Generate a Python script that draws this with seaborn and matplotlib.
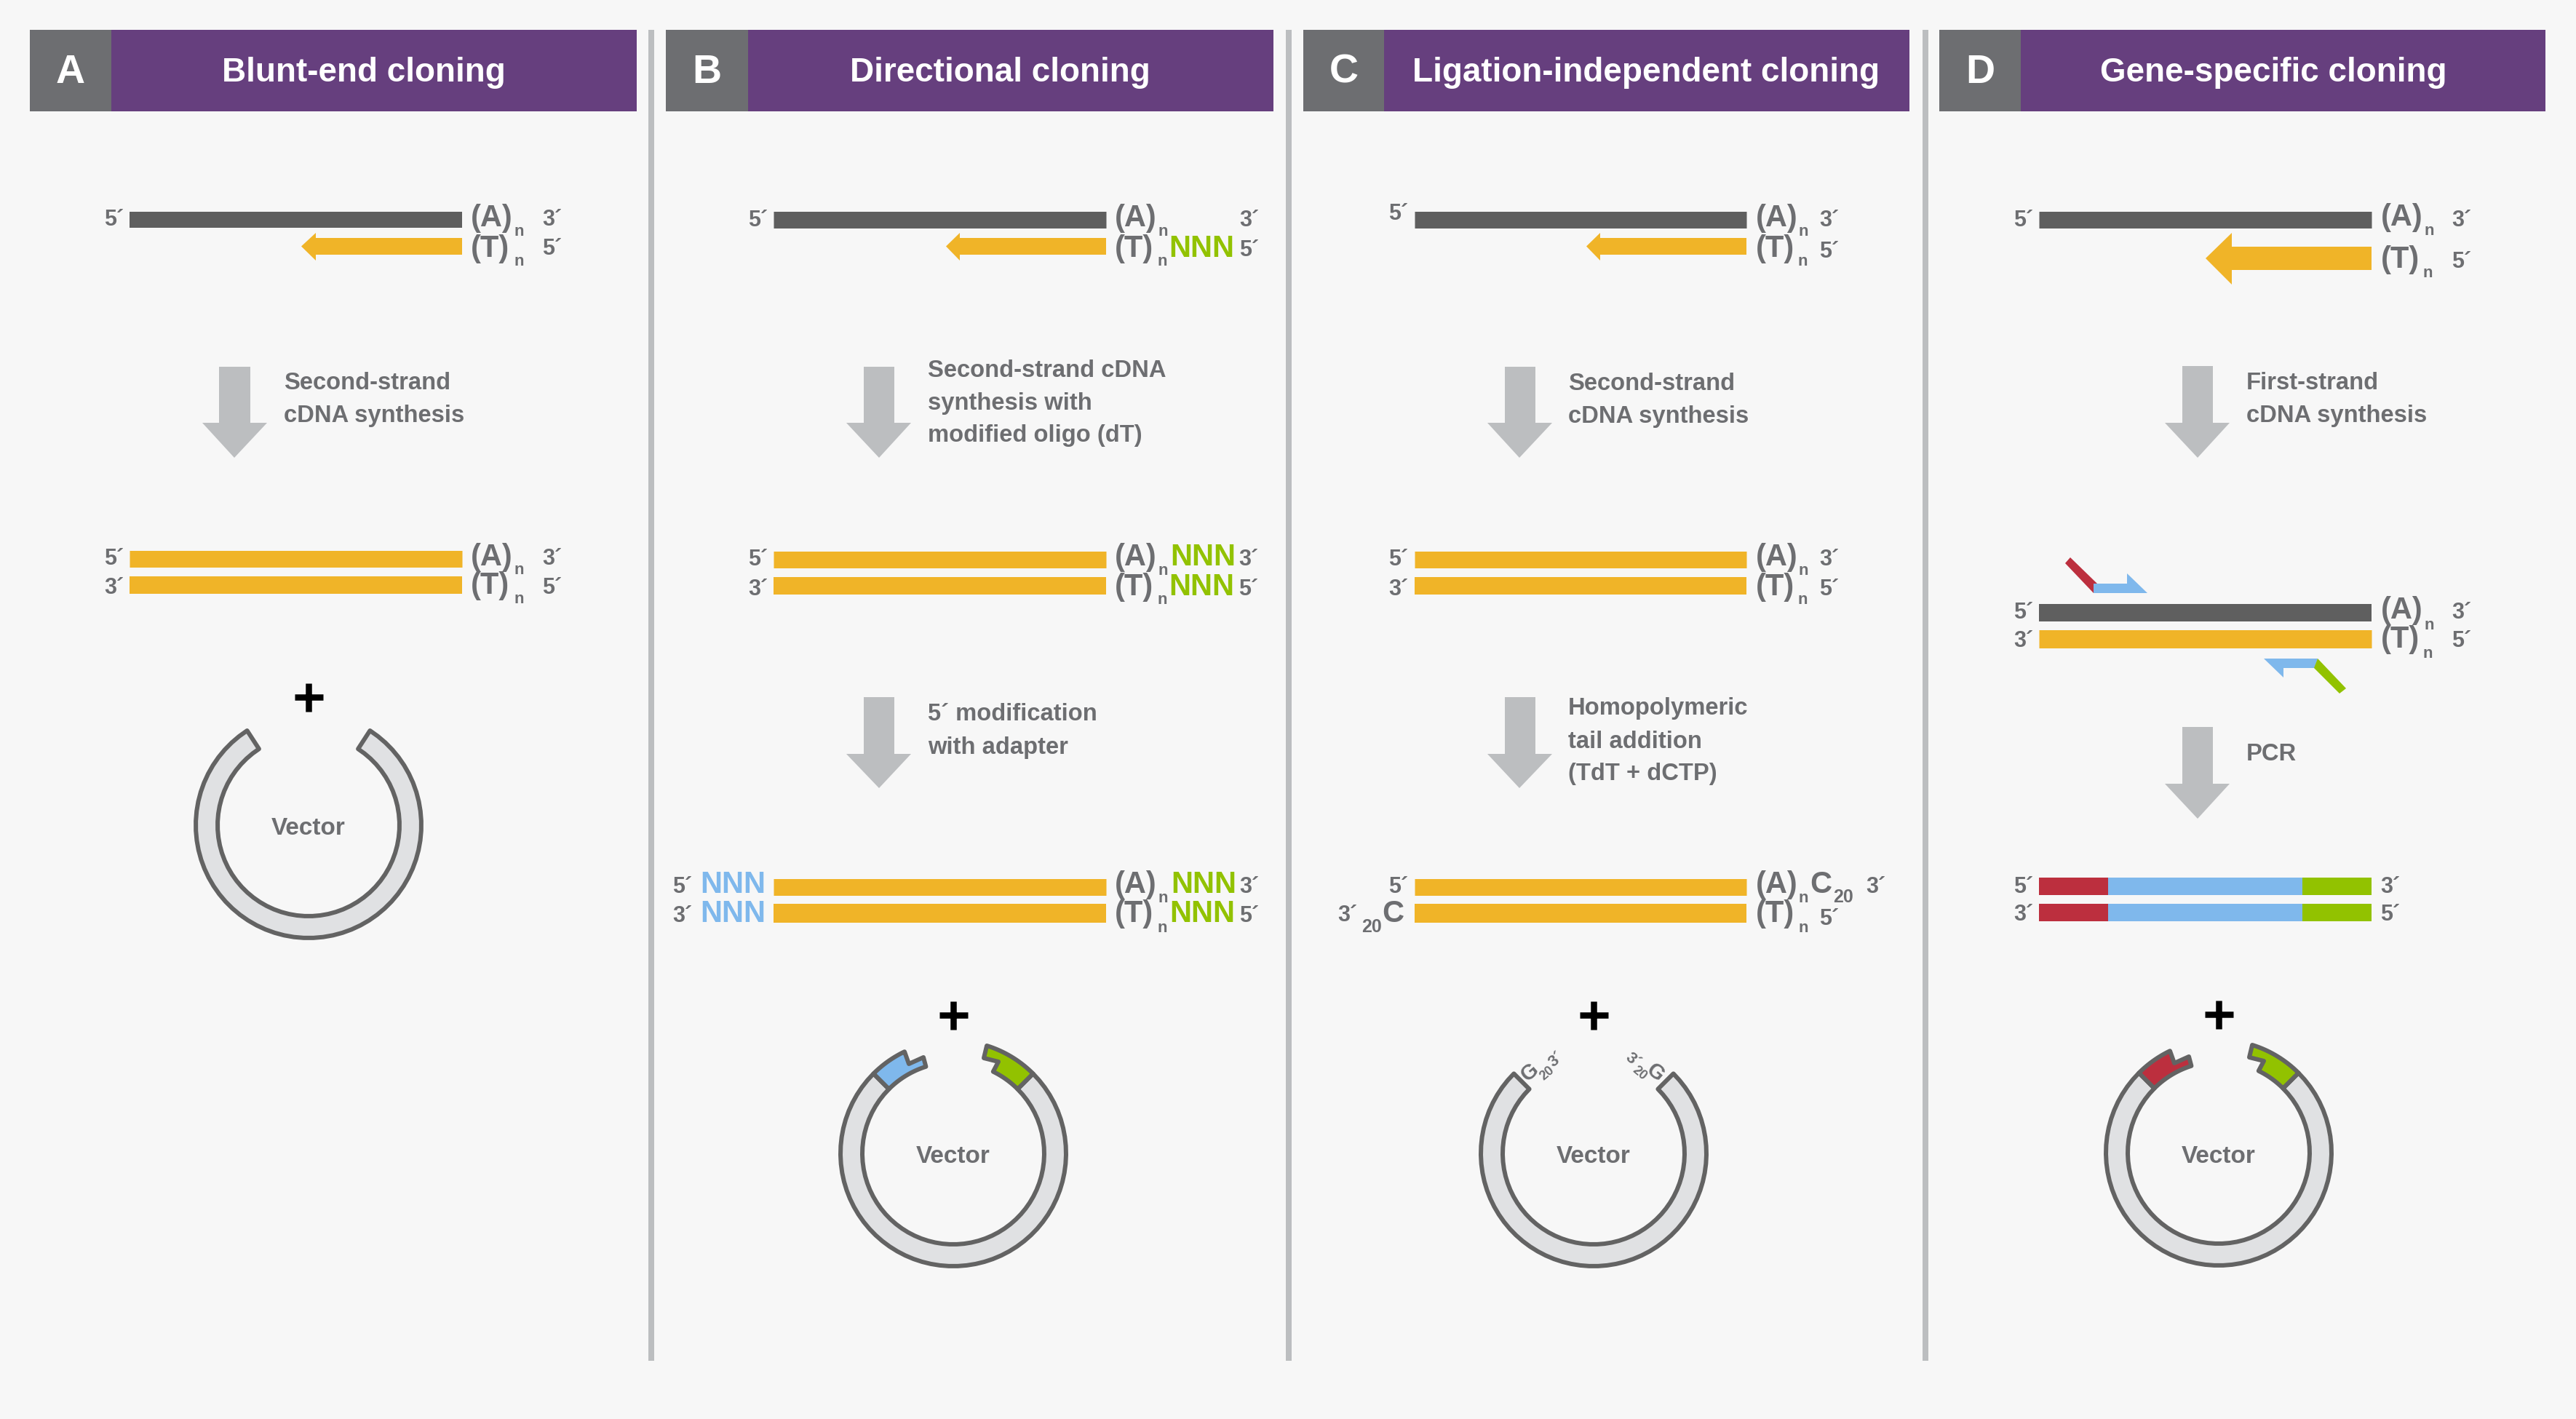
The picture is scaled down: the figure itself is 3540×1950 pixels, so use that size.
import numpy as np
import seaborn as sns
import matplotlib.pyplot as plt
from matplotlib.patches import Polygon, Rectangle

ORANGE = '#F0B428'
DARK = '#5F5F5F'
BLUE = '#7FB8EC'
GREEN = '#92C200'
RED = '#BC2F3E'
ARROW_GREY = '#BCBEC0'
TEXT_GREY = '#6D6E71'
RING_FILL = '#E0E1E3'
RING_EDGE = '#636363'
BG = '#F7F7F7'

# header boxes: letter, title, left, split, right, title centre
HEAD_LETTERS = ['A', 'B', 'C', 'D']
HEAD_TITLES = ['Blunt-end cloning', 'Directional cloning', 'Ligation-independent cloning', 'Gene-specific cloning']
HEAD_LEFT = [41, 915, 1791, 2665]
HEAD_SPLIT = [153, 1028, 1902, 2777]
HEAD_RIGHT = [875, 1750, 2624, 3498]
HEAD_TEXT_X = [500, 1374, 2262, 3124]
SEPARATORS = [895, 1771, 2646]

# strands: x0, x1, top, bottom, colour
STRANDS = [
    (178, 635, 291, 313, DARK), (178, 635, 756, 779, ORANGE), (178, 635, 792, 816, ORANGE),
    (1063, 1520, 290, 313, DARK), (1063, 1520, 757, 780, ORANGE), (1063, 1520, 793, 817, ORANGE),
    (1063, 1520, 1207, 1230, ORANGE), (1063, 1520, 1242, 1268, ORANGE),
    (1944, 2400, 290, 313, DARK), (1944, 2400, 757, 780, ORANGE), (1944, 2400, 793, 817, ORANGE),
    (1944, 2400, 1207, 1230, ORANGE), (1944, 2400, 1242, 1268, ORANGE),
    (2802, 3259, 290, 313, DARK), (2802, 3259, 830, 854, DARK), (2802, 3259, 865, 890, ORANGE),
    (2802, 2897, 1206, 1230, RED), (2897, 3164, 1206, 1230, BLUE), (3164, 3259, 1206, 1230, GREEN),
    (2802, 2897, 1242, 1266, RED), (2897, 3164, 1242, 1266, BLUE), (3164, 3259, 1242, 1266, GREEN),
]

# first strand arrows: root x, head base x, tip x, shaft top, shaft bottom, head top, head bottom
SYNTH_ARROWS = [
    (635, 434, 414, 327, 350, 320, 358),
    (1520, 1319, 1300, 327, 350, 320, 358),
    (2400, 2199, 2180, 327, 350, 320, 358),
    (3259, 3067, 3031, 339, 371, 320, 391),
]

# step arrows: shaft left, shaft right, head left, head right, tip x, top, shoulder, tip y
STEP_ARROWS = [
    (301, 344, 278, 367, 322, 504, 581, 629),
    (1187, 1229, 1163, 1252, 1208, 504, 581, 629),
    (1187, 1229, 1163, 1252, 1208, 958, 1036, 1083),
    (2068, 2110, 2044, 2133, 2088, 504, 581, 629),
    (2068, 2110, 2044, 2133, 2088, 958, 1036, 1083),
    (2999, 3041, 2975, 3064, 3020, 503, 581, 629),
    (2999, 3041, 2975, 3064, 3020, 999, 1077, 1125),
]

# step captions: text, x, baseline
CAPTIONS = [
    ('Second-strand', 390, 535), ('cDNA synthesis', 390, 580),
    ('Second-strand cDNA', 1275, 518), ('synthesis with', 1275, 563), ('modified oligo (dT)', 1275, 607),
    ('5´ modification', 1275, 990), ('with adapter', 1275, 1036),
    ('Second-strand', 2155, 536), ('cDNA synthesis', 2155, 581),
    ('Homopolymeric', 2155, 982), ('tail addition', 2155, 1028), ('(TdT + dCTP)', 2155, 1072),
    ('First-strand', 3087, 535), ('cDNA synthesis', 3087, 580),
    ('PCR', 3087, 1045),
]

PRIMES = [
    ('5´', 143, 310), ('3´', 745, 310), ('5´', 745, 350),
    ('5´', 143, 776), ('3´', 143, 816), ('3´', 745, 776), ('5´', 745, 816),
    ('5´', 1028, 311), ('3´', 1703, 311), ('5´', 1703, 352),
    ('5´', 1028, 777), ('3´', 1028, 818), ('3´', 1702, 777), ('5´', 1702, 818),
    ('5´', 924, 1227), ('3´', 924, 1267), ('3´', 1703, 1227), ('5´', 1703, 1267),
    ('5´', 1908, 302), ('3´', 2500, 311), ('5´', 2500, 354),
    ('5´', 1908, 777), ('3´', 1908, 818), ('3´', 2500, 777), ('5´', 2500, 818),
    ('5´', 1908, 1227), ('3´', 1838, 1266), ('3´', 2564, 1227), ('5´', 2500, 1271),
    ('5´', 2767, 311), ('3´', 3369, 311), ('5´', 3369, 368),
    ('5´', 2767, 850), ('3´', 2767, 889), ('3´', 3369, 850), ('5´', 3369, 889),
    ('5´', 2767, 1227), ('3´', 2767, 1265), ('3´', 3271, 1227), ('5´', 3271, 1265),
]

# big letters on the strand ends: text, x, baseline, colour
BASES = [
    ('(A)', 647, 311, TEXT_GREY), ('(T)', 647, 353, TEXT_GREY), ('(A)', 647, 777, TEXT_GREY), ('(T)', 647, 816, TEXT_GREY),
    ('(A)', 1532, 311, TEXT_GREY), ('(T)', 1532, 353, TEXT_GREY), ('(A)', 1532, 777, TEXT_GREY), ('(T)', 1532, 818, TEXT_GREY),
    ('(A)', 1532, 1227, TEXT_GREY), ('(T)', 1532, 1267, TEXT_GREY),
    ('(A)', 2413, 311, TEXT_GREY), ('(T)', 2413, 353, TEXT_GREY), ('(A)', 2413, 777, TEXT_GREY), ('(T)', 2413, 818, TEXT_GREY),
    ('(A)', 2413, 1227, TEXT_GREY), ('(T)', 2413, 1267, TEXT_GREY), ('C', 2487, 1227, TEXT_GREY), ('C', 1899, 1267, TEXT_GREY),
    ('(A)', 3272, 310, TEXT_GREY), ('(T)', 3272, 368, TEXT_GREY), ('(A)', 3272, 850, TEXT_GREY), ('(T)', 3272, 890, TEXT_GREY),
    ('NNN', 1606, 353, GREEN), ('NNN', 1608, 777, GREEN), ('NNN', 1606, 818, GREEN),
    ('NNN', 962, 1227, BLUE), ('NNN', 962, 1267, BLUE), ('NNN', 1609, 1227, GREEN), ('NNN', 1607, 1267, GREEN),
]

SUBSCRIPTS = [
    ('n', 707, 324), ('n', 707, 365), ('n', 707, 789), ('n', 707, 829),
    ('n', 1592, 324), ('n', 1591, 365), ('n', 1592, 790), ('n', 1591, 830), ('n', 1592, 1240), ('n', 1591, 1281),
    ('n', 2472, 324), ('n', 2471, 365), ('n', 2472, 790), ('n', 2471, 830), ('n', 2472, 1240), ('n', 2472, 1281),
    ('n', 3332, 323), ('n', 3330, 381), ('n', 3332, 865), ('n', 3330, 904),
]
TWENTIES = [('20', 2519, 1240), ('20', 1871, 1281)]

# vectors: centre x, centre y, "+" y, text baseline, gap half angle, left insert, right insert
VECTOR_X = [424, 1310, 2190, 3049]
VECTOR_Y = [1134, 1585, 1585, 1584]
PLUS_Y = [958, 1395, 1395, 1394]
VECTOR_BASE = [1147, 1598, 1598, 1598]
VECTOR_GAP = [33, 45, 45, 45]
VECTOR_LEFT = [None, BLUE, None, RED]
VECTOR_RIGHT = [None, GREEN, None, GREEN]

# rotated overhang labels on the vector of panel C: text, x, y, size, rotation
OVERHANGS = [
    ('G', 2102, 1474, 21, 40), ('20', 2126, 1475, 13, 40), ('3´', 2139, 1456, 16, 40),
    ('G', 2275, 1474, 21, -40), ('20', 2253, 1475, 13, -40), ('3´', 2244, 1457, 16, -40),
]

# primers of panel D
RED_PRIMER_X = [2845, 2838, 2877, 2882]
RED_PRIMER_Y = [766, 774, 815, 802]
BLUE_PRIMER_X = [2877, 2923, 2923, 2951, 2877]
BLUE_PRIMER_Y = [802, 802, 788, 815, 815]
BLUE_PRIMER2_X = [3111, 3185, 3181, 3138, 3138]
BLUE_PRIMER2_Y = [905, 905, 918, 918, 931]
GREEN_PRIMER_X = [3185, 3224, 3215, 3180]
GREEN_PRIMER_Y = [905, 946, 953, 918]

R_OUT = 155
R_IN = 125
PX = 0.72  # points per pixel at dpi 100


def arc(cx, cy, r, a0, a1):
    t = np.radians(np.linspace(a0, a1, 60))
    return np.column_stack([cx + r * np.sin(t), cy - r * np.cos(t)])


def add_poly(ax, pts, color, edge=None, lw=0):
    ax.add_patch(Polygon(pts, closed=True, facecolor=color, edgecolor=edge or 'none',
                         linewidth=lw, joinstyle='round'))


def draw_vector(ax, i):
    cx, cy = VECTOR_X[i], VECTOR_Y[i]
    gap = VECTOR_GAP[i]
    ring = np.vstack([arc(cx, cy, R_OUT, gap, 360 - gap), arc(cx, cy, R_IN, 360 - gap, gap)])
    add_poly(ax, ring, RING_FILL, RING_EDGE, 6 * PX)
    if VECTOR_LEFT[i]:
        notch = np.array([[-61, -123], [-41, -132]]) + [cx, cy]
        pts = np.vstack([arc(cx, cy, R_OUT, -45, -25.6), notch, arc(cx, cy, R_IN, -17.5, -45)])
        add_poly(ax, pts, VECTOR_LEFT[i], RING_EDGE, 6 * PX)
        notch = np.array([[42, -131], [62, -126]]) + [cx, cy]
        pts = np.vstack([arc(cx, cy, R_OUT, 45, 17.3), notch, arc(cx, cy, R_IN, 26, 45)])
        add_poly(ax, pts, VECTOR_RIGHT[i], RING_EDGE, 6 * PX)
    sns.scatterplot(x=[cx], y=[PLUS_Y[i]], marker='+', s=(39 * PX) ** 2, color='black',
                    linewidth=8.5 * PX, ax=ax, legend=False)
    ax.text(cx, VECTOR_BASE[i], 'Vector', ha='center', va='baseline', fontsize=24,
            fontweight='bold', color=TEXT_GREY)


sns.set_theme(style='white', rc={'figure.facecolor': BG, 'axes.facecolor': BG})
plt.rcParams['font.family'] = ['Liberation Sans', 'DejaVu Sans']

fig = plt.figure(figsize=(35.41, 19.5), dpi=100)
ax = fig.add_axes([0, 0, 1, 1])

for i, letter in enumerate(HEAD_LETTERS):
    ax.add_patch(Rectangle((HEAD_LEFT[i], 41), HEAD_SPLIT[i] - HEAD_LEFT[i], 112, color=TEXT_GREY, lw=0))
    ax.add_patch(Rectangle((HEAD_SPLIT[i], 41), HEAD_RIGHT[i] - HEAD_SPLIT[i], 112, color='#663F7E', lw=0))
    ax.text((HEAD_LEFT[i] + HEAD_SPLIT[i]) / 2, 114, letter, ha='center', va='baseline',
            fontsize=40, fontweight='bold', color='white')
    ax.text(HEAD_TEXT_X[i], 112, HEAD_TITLES[i], ha='center', va='baseline',
            fontsize=33, fontweight='bold', color='white')

for x in SEPARATORS:
    sns.lineplot(x=[x, x], y=[41, 1870], color=ARROW_GREY, linewidth=8 * PX, ax=ax,
                 estimator=None, sort=False, solid_capstyle='butt')

for x0, x1, top, bottom, color in STRANDS:
    mid = (top + bottom) / 2
    sns.lineplot(x=[x0, x1], y=[mid, mid], color=color, linewidth=(bottom - top) * PX, ax=ax,
                 estimator=None, sort=False, solid_capstyle='butt')

for root, base, tip, top, bottom, head_top, head_bottom in SYNTH_ARROWS:
    add_poly(ax, [(root, top), (base, top), (base, head_top), (tip, (top + bottom) / 2),
                  (base, head_bottom), (base, bottom), (root, bottom)], ORANGE)

for left, right, head_l, head_r, tip, top, shoulder, tip_y in STEP_ARROWS:
    add_poly(ax, [(left, top), (right, top), (right, shoulder), (head_r, shoulder), (tip, tip_y),
                  (head_l, shoulder), (left, shoulder)], ARROW_GREY)

for text, x, y in CAPTIONS:
    ax.text(x, y, text, ha='left', va='baseline', fontsize=23.6, fontweight='bold', color=TEXT_GREY)
for text, x, y in PRIMES:
    ax.text(x, y, text, ha='left', va='baseline', fontsize=22, fontweight='bold', color=TEXT_GREY)
for text, x, y, color in BASES:
    ax.text(x, y, text, ha='left', va='baseline', fontsize=30, fontweight='bold', color=color)
for text, x, y in SUBSCRIPTS:
    ax.text(x, y, text, ha='left', va='baseline', fontsize=16, fontweight='bold', color=TEXT_GREY)
for text, x, y in TWENTIES:
    ax.text(x, y, text, ha='left', va='baseline', fontsize=18, fontweight='bold', color=TEXT_GREY)

for i in range(4):
    draw_vector(ax, i)

for text, x, y, size, rot in OVERHANGS:
    ax.text(x, y, text, ha='center', va='center', fontsize=size, rotation=rot,
            fontweight='bold', color=TEXT_GREY)

add_poly(ax, np.column_stack([RED_PRIMER_X, RED_PRIMER_Y]), RED)
add_poly(ax, np.column_stack([BLUE_PRIMER_X, BLUE_PRIMER_Y]), BLUE)
add_poly(ax, np.column_stack([BLUE_PRIMER2_X, BLUE_PRIMER2_Y]), BLUE)
add_poly(ax, np.column_stack([GREEN_PRIMER_X, GREEN_PRIMER_Y]), GREEN)

ax.set_xlim(0, 3541)
ax.set_ylim(1950, 0)
ax.axis('off')
sns.despine(ax=ax, left=True, bottom=True)

fig.savefig('out.png', dpi=100, facecolor=BG)
